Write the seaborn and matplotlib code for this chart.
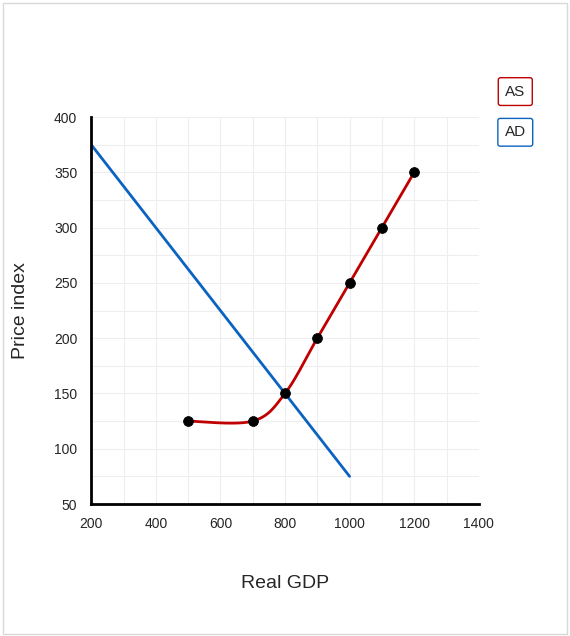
import numpy as np
import matplotlib
matplotlib.use("Agg")
import matplotlib.pyplot as plt
import seaborn as sns
from matplotlib.patches import Rectangle

# ---------------- DATA ----------------
as_x = [500, 700, 800, 900, 1000, 1100, 1200]
as_y = [125, 125, 150, 200, 250, 300, 350]
ad_x = [200, 1000]
ad_y = [375, 75]
x_ticks = [200, 400, 600, 800, 1000, 1200, 1400]
y_ticks = [50, 100, 150, 200, 250, 300, 350, 400]

sns.set_style("white")
plt.rcParams['font.family'] = ['Liberation Sans', 'DejaVu Sans']

# smooth Catmull-Rom curve through AS points
def catmull(xs, ys, n=30):
    px = [xs[0]] + list(xs) + [xs[-1]]
    py = [ys[0]] + list(ys) + [ys[-1]]
    out_x, out_y = [], []
    for i in range(1, len(px) - 2):
        t = np.linspace(0, 1, n)
        for p, out in ((px, out_x), (py, out_y)):
            p0, p1, p2, p3 = p[i - 1], p[i], p[i + 1], p[i + 2]
            out.extend(0.5 * ((2 * p1) + (-p0 + p2) * t + (2 * p0 - 5 * p1 + 4 * p2 - p3) * t**2
                              + (-p0 + 3 * p1 - 3 * p2 + p3) * t**3))
    return out_x, out_y

fig = plt.figure(figsize=(5.7, 6.36), dpi=100)
fig.patches.append(Rectangle((0.005, 0.003), 0.99, 0.992, transform=fig.transFigure,
                             fill=False, edgecolor="#d9d9d9", lw=1))
ax = fig.add_axes([0.16, 0.2075, 0.68, 0.6085])

ax.set_xticks(np.arange(200, 1401, 100), minor=True)
ax.set_yticks(np.arange(50, 401, 25), minor=True)
ax.grid(True, which="both", color="#eeeeee", lw=0.8)
ax.set_axisbelow(True)

sx, sy = catmull(as_x, as_y)
sns.lineplot(x=ad_x, y=ad_y, ax=ax, color="#0b63c1", lw=2, sort=False)
sns.lineplot(x=sx, y=sy, ax=ax, color="#c00000", lw=2, sort=False)
sns.scatterplot(x=as_x, y=as_y, ax=ax, color="black", s=50, zorder=5, edgecolor="black")

ax.set_xlim(200, 1400)
ax.set_ylim(50, 400)
ax.set_xticks(x_ticks)
ax.set_yticks(y_ticks)
ax.tick_params(which="both", length=0, labelsize=10)
ax.tick_params(axis="x", pad=9)
ax.tick_params(axis="y", pad=10)
for s in ["top", "right"]:
    ax.spines[s].set_visible(False)
for s in ["left", "bottom"]:
    ax.spines[s].set_color("black")
    ax.spines[s].set_linewidth(2)
ax.set_xlabel("Real GDP", fontsize=14, labelpad=32)
ax.set_ylabel("Price index", fontsize=14, labelpad=18)

fig.text(0.904, 0.856, "AS", fontsize=11, ha="center", va="center",
         bbox=dict(boxstyle="round,pad=0.45,rounding_size=0.15", fc="white", ec="#c00000"))
fig.text(0.904, 0.792, "AD", fontsize=11, ha="center", va="center",
         bbox=dict(boxstyle="round,pad=0.45,rounding_size=0.15", fc="white", ec="#0b63c1"))

fig.savefig("out.png", dpi=100)
